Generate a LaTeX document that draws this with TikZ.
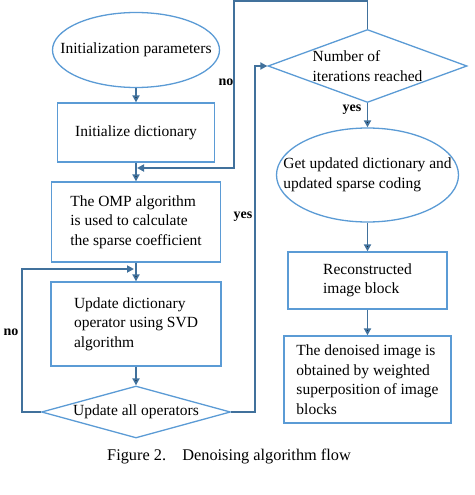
\documentclass[tikz,border=0pt]{standalone}
\usepackage{fontspec}
\setmainfont{Liberation Serif}
\usetikzlibrary{shapes.geometric,arrows.meta}
\definecolor{boxblue}{HTML}{5B9BD5}
\definecolor{arrowblue}{HTML}{41719C}
\tikzstyle{stepbox}=[rectangle, draw=boxblue, line width=1.3pt, align=left, inner sep=0pt, font=\fontsize{15.5}{19.5}\selectfont]
\tikzstyle{oval}=[ellipse, draw=boxblue, line width=1.3pt, inner sep=0pt]
\tikzstyle{decide}=[diamond, draw=boxblue, line width=1.3pt, inner sep=0pt]
\tikzstyle{inside}=[align=left, inner sep=0pt, font=\fontsize{15.5}{19.5}\selectfont]
\tikzstyle{arr}=[-{Triangle[length=7pt,width=7pt]}, draw=arrowblue, line width=1.8pt]
\tikzstyle{lbl}=[font=\fontsize{14}{16}\selectfont\bfseries]

\begin{document}
\begin{tikzpicture}[x=1pt, y=-1pt]
	   \useasboundingbox (0,0) rectangle (474,495);
	   \begin{scope}
		   % left column
		   \node (initp) at (136, 50) [oval, minimum width=167pt, minimum height=75pt,
			   label={[inside]center:{Initialization parameters}}] {};
		   \node (initd) at (136, 132.5) [stepbox, minimum width=157pt, minimum height=59pt] {Initialize dictionary};
		   \node (omp) at (136, 222) [stepbox, minimum width=169pt, minimum height=80pt] {The OMP algorithm\\is used to calculate\\the sparse coefficient};
		   \node (svd) at (136, 324) [stepbox, minimum width=170pt, minimum height=84pt] {Update dictionary\\operator using SVD\\algorithm};
		   \node (allop) at (136, 412) [decide, minimum width=189pt, minimum height=52pt,
			   label={[inside]center:{Update all operators}}] {};

		   % right column
		   \node (iter) at (367.5, 66) [decide, minimum width=199pt, minimum height=73pt,
			   label={[inside]center:{Number of\\iterations reached}}] {};
		   \node (getd) at (367.5, 175) [oval, minimum width=182pt, minimum height=94pt,
			   label={[inside]center:{Get updated dictionary and\\updated sparse coding}}] {};
		   \node (recon) at (367.5, 280.5) [stepbox, minimum width=159pt, minimum height=57pt] {Reconstructed\\image block};
		   \node (denoise) at (367.5, 379.5) [stepbox, minimum width=167pt, minimum height=87pt] {The denoised image is\\obtained by weighted\\superposition of image\\blocks};

		   % bends of the loops
		   \coordinate (noA) at (234, 1);
		   \coordinate (noB) at (137, 168);
		   \coordinate (noC) at (22, 269);
		   \coordinate (noD) at (134, 269);
		   \coordinate (yesA) at (255, 66);

		   \node (no1) at (226, 82) [lbl] {no};
		   \node (no2) at (11, 332) [lbl] {no};
		   \node (yes1) at (243, 217) [lbl] {yes};
		   \node (yes2) at (352, 110) [lbl] {yes};

		   \node (cap) at (229, 457) [font=\fontsize{16.3}{19}\selectfont] {Figure 2.\quad Denoising algorithm flow};
	   \end{scope}
	   \begin{scope}
		   \path [arr] (initp) edge (initd);
		   \path [arr] (initd) edge (omp);
		   \path [arr] (omp) edge (svd);
		   \path [arr] (svd) edge (allop);
		   \path [arr] (iter) edge (getd);
		   \path [arr] (getd) edge (recon);
		   \path [arr] (recon) edge (denoise);

		   \draw [arr] (iter.north) |- (noA) |- (noB);
		   \draw [arr] (allop.west) -| (noC) -- (noD);
		   \draw [arr] (allop.east) -| (yesA) -- (iter.west);
	   \end{scope}
\end{tikzpicture}
\end{document}
